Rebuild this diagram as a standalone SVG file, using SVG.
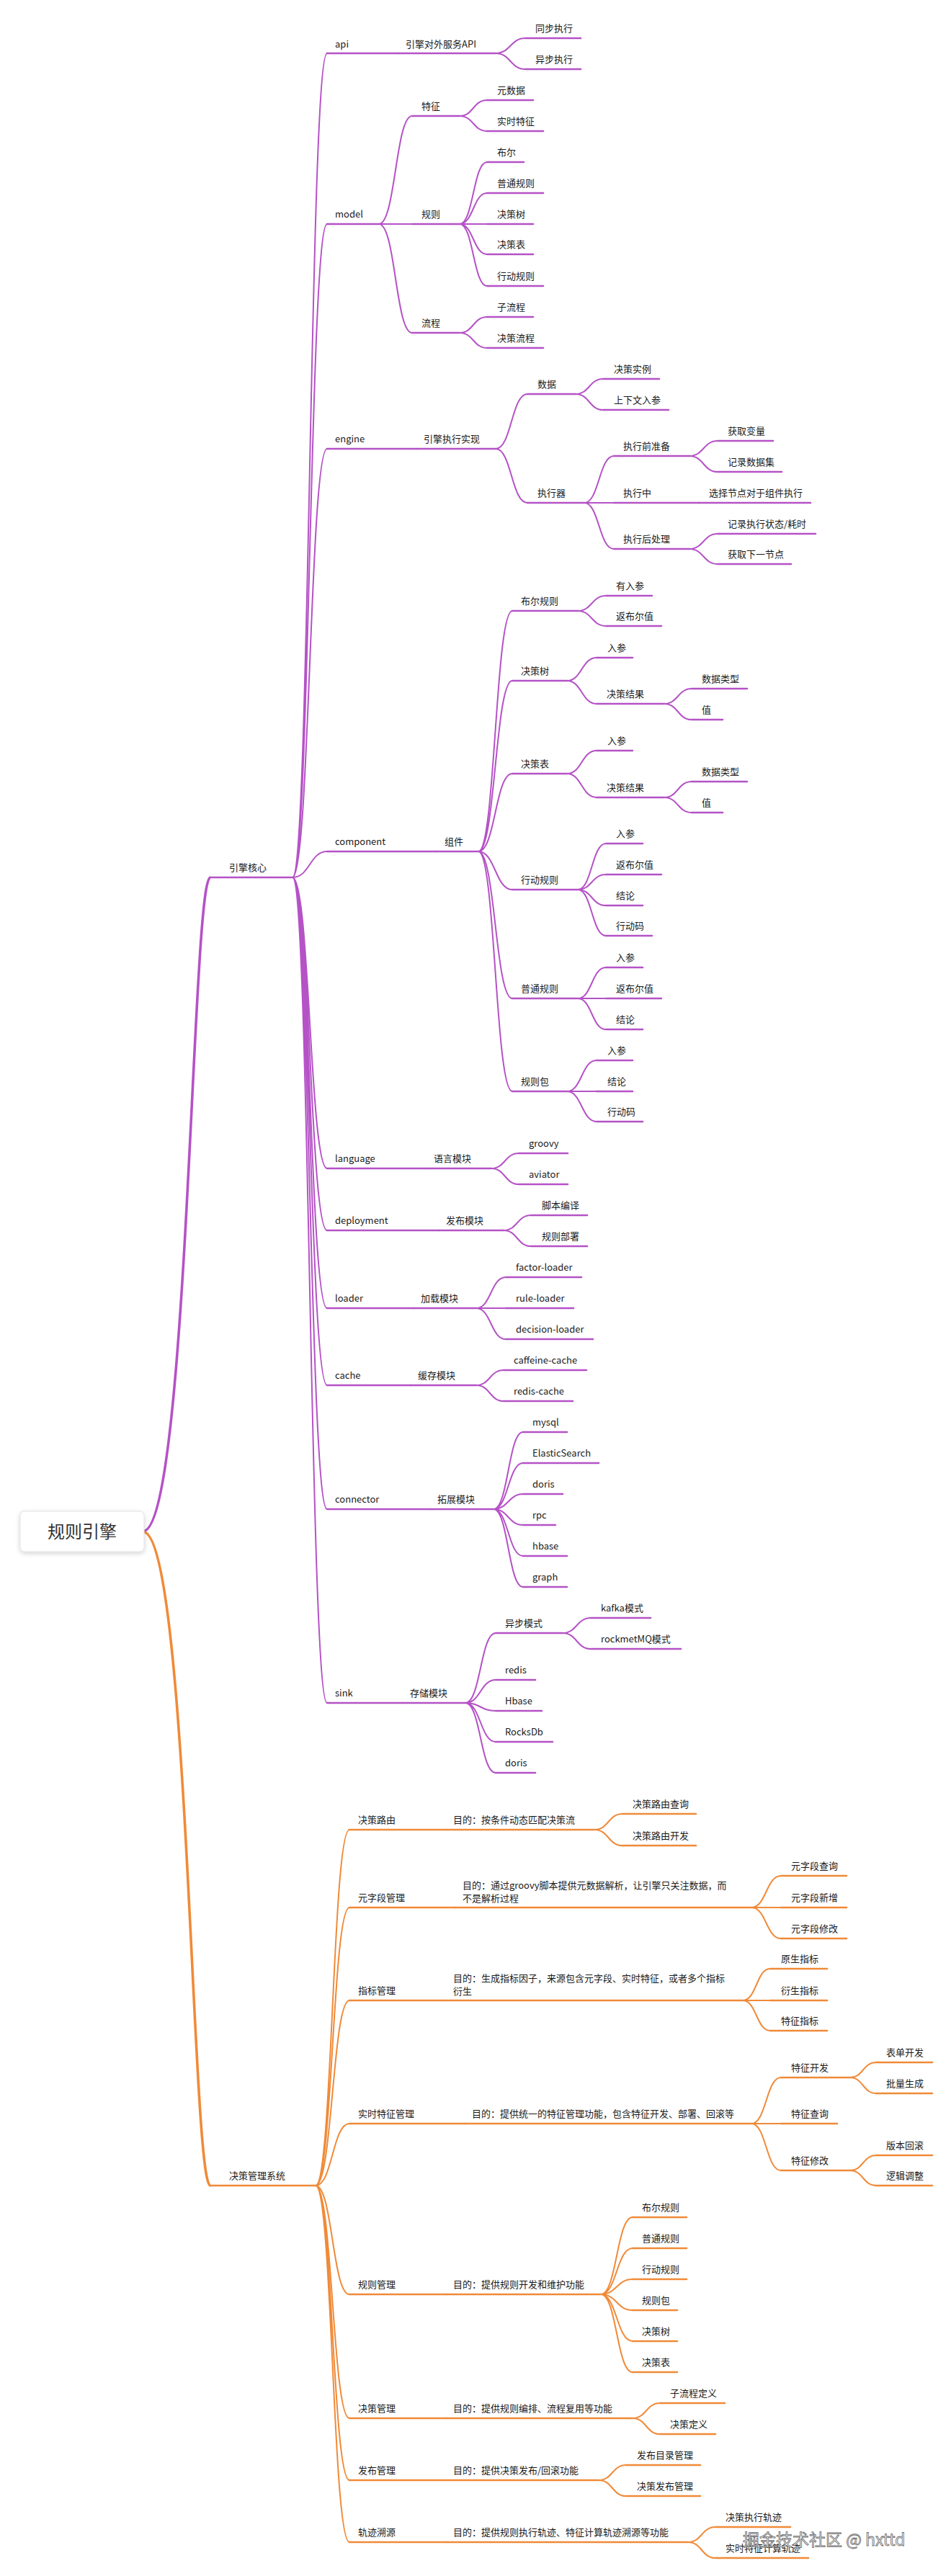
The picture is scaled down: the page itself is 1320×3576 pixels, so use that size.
<svg xmlns="http://www.w3.org/2000/svg" width="1320" height="3576" viewBox="0 0 1320 3576">
<style>
.t{font-family:"Noto Sans CJK SC","Microsoft YaHei",sans-serif;font-size:13px;fill:#1a1a1a}
.pl{stroke:#B552C6;stroke-width:2.6;fill:none;stroke-linecap:round}
.pc{stroke:#B552C6;stroke-width:2;fill:none}
.ol{stroke:#F08A38;stroke-width:2.6;fill:none;stroke-linecap:round}
.oc{stroke:#F08A38;stroke-width:2;fill:none}
.wm{font-family:"Noto Sans CJK SC",sans-serif;font-size:23px;fill:#f4f4f4;stroke:#6a6a6a;stroke-width:0.8}
</style>
<defs>
<filter id="sh" x="-20%" y="-20%" width="140%" height="160%"><feDropShadow dx="0" dy="2" stdDeviation="3" flood-color="#000" flood-opacity="0.18"/></filter>
</defs>
<rect width="1320" height="3576" fill="#ffffff"/>
<g id="connectors">
<path class="pc" style="stroke-width:3.6" d="M198 2126 C262 2126 266 1218 292 1218"/>
<path class="oc" style="stroke-width:3.6" d="M198 2126 C262 2126 266 3034 292 3034"/>
<path class="pc" d="M406 1218 C430 1218 430 74 454 74M406 1218 C430 1218 430 311 454 311M406 1218 C430 1218 430 623 454 623M406 1218 C430 1218 430 1182 454 1182M406 1218 C430 1218 430 1622 454 1622M406 1218 C430 1218 430 1708 454 1708M406 1218 C430 1218 430 1816 454 1816M406 1218 C430 1218 430 1923 454 1923M406 1218 C430 1218 430 2095 454 2095M406 1218 C430 1218 430 2364 454 2364"/>
<path class="pc" d="M688 74 C708.5 74 708.5 53 729 53M688 74 C708.5 74 708.5 96 729 96"/>
<path class="pc" d="M526 311 C549 311 549 161 572 161M526 311 H572M526 311 C549 311 549 462 572 462"/>
<path class="pc" d="M638 161 C657 161 657 139 676 139M638 161 C657 161 657 182 676 182"/>
<path class="pc" d="M638 311 C657 311 657 225 676 225M638 311 C657 311 657 268 676 268M638 311 H676M638 311 C657 311 657 353 676 353M638 311 C657 311 657 397 676 397"/>
<path class="pc" d="M638 462 C657 462 657 440 676 440M638 462 C657 462 657 483 676 483"/>
<path class="pc" d="M688 623 C710 623 710 547 732 547M688 623 C710 623 710 698 732 698"/>
<path class="pc" d="M799 547 C818 547 818 526 837 526M799 547 C818 547 818 569 837 569"/>
<path class="pc" d="M811 698 C831.5 698 831.5 633 852 633M811 698 H852M811 698 C831.5 698 831.5 762 852 762"/>
<path class="pc" d="M957 633 C976.5 633 976.5 612 996 612M957 633 C976.5 633 976.5 655 996 655"/>
<path class="pc" d="M957 762 C976.5 762 976.5 741 996 741M957 762 C976.5 762 976.5 783 996 783"/>
<path class="pc" d="M664 1182 C687.5 1182 687.5 848 711 848M664 1182 C687.5 1182 687.5 945 711 945M664 1182 C687.5 1182 687.5 1074 711 1074M664 1182 C687.5 1182 687.5 1235 711 1235M664 1182 C687.5 1182 687.5 1386 711 1386M664 1182 C687.5 1182 687.5 1515 711 1515"/>
<path class="pc" d="M802 848 C821.5 848 821.5 827 841 827M802 848 C821.5 848 821.5 869 841 869"/>
<path class="pc" d="M787 945 C807.5 945 807.5 913 828 913M787 945 C807.5 945 807.5 977 828 977"/>
<path class="pc" d="M922 977 C941 977 941 956 960 956M922 977 C941 977 941 999 960 999"/>
<path class="pc" d="M787 1074 C807.5 1074 807.5 1042 828 1042M787 1074 C807.5 1074 807.5 1107 828 1107"/>
<path class="pc" d="M922 1107 C941 1107 941 1085 960 1085M922 1107 C941 1107 941 1128 960 1128"/>
<path class="pc" d="M802 1235 C821.5 1235 821.5 1171 841 1171M802 1235 C821.5 1235 821.5 1214 841 1214M802 1235 C821.5 1235 821.5 1257 841 1257M802 1235 C821.5 1235 821.5 1299 841 1299"/>
<path class="pc" d="M802 1386 C821.5 1386 821.5 1343 841 1343M802 1386 H841M802 1386 C821.5 1386 821.5 1429 841 1429"/>
<path class="pc" d="M787 1515 C807.5 1515 807.5 1472 828 1472M787 1515 H828M787 1515 C807.5 1515 807.5 1557 828 1557"/>
<path class="pc" d="M682 1622 C701 1622 701 1601 720 1601M682 1622 C701 1622 701 1644 720 1644"/>
<path class="pc" d="M699 1708 C718 1708 718 1687 737 1687M699 1708 C718 1708 718 1730 737 1730"/>
<path class="pc" d="M661 1816 C681.5 1816 681.5 1773 702 1773M661 1816 H702M661 1816 C681.5 1816 681.5 1859 702 1859"/>
<path class="pc" d="M661 1923 C680 1923 680 1902 699 1902M661 1923 C680 1923 680 1945 699 1945"/>
<path class="pc" d="M685 2095 C705.5 2095 705.5 1988 726 1988M685 2095 C705.5 2095 705.5 2031 726 2031M685 2095 C705.5 2095 705.5 2074 726 2074M685 2095 C705.5 2095 705.5 2117 726 2117M685 2095 C705.5 2095 705.5 2160 726 2160M685 2095 C705.5 2095 705.5 2203 726 2203"/>
<path class="pc" d="M646 2364 C667 2364 667 2267 688 2267M646 2364 C667 2364 667 2332 688 2332M646 2364 C667 2364 667 2375 688 2375M646 2364 C667 2364 667 2418 688 2418M646 2364 C667 2364 667 2461 688 2461"/>
<path class="pc" d="M781 2267 C800.5 2267 800.5 2246 820 2246M781 2267 C800.5 2267 800.5 2289 820 2289"/>
<path class="oc" d="M438 3034 C461.5 3034 461.5 2540 485 2540M438 3034 C461.5 3034 461.5 2648 485 2648M438 3034 C461.5 3034 461.5 2777 485 2777M438 3034 C461.5 3034 461.5 2948 485 2948M438 3034 C461.5 3034 461.5 3185 485 3185M438 3034 C461.5 3034 461.5 3357 485 3357M438 3034 C461.5 3034 461.5 3443 485 3443M438 3034 C461.5 3034 461.5 3529 485 3529"/>
<path class="oc" d="M825 2540 C844.5 2540 844.5 2518 864 2518M825 2540 C844.5 2540 844.5 2562 864 2562"/>
<path class="oc" d="M1043 2648 C1063.5 2648 1063.5 2604 1084 2604M1043 2648 H1084M1043 2648 C1063.5 2648 1063.5 2691 1084 2691"/>
<path class="oc" d="M1031 2777 C1050 2777 1050 2733 1069 2733M1031 2777 H1069M1031 2777 C1050 2777 1050 2819 1069 2819"/>
<path class="oc" d="M1043 2948 C1063.5 2948 1063.5 2884 1084 2884M1043 2948 H1084M1043 2948 C1063.5 2948 1063.5 3013 1084 3013"/>
<path class="oc" d="M1180 2884 C1198 2884 1198 2863 1216 2863M1180 2884 C1198 2884 1198 2906 1216 2906"/>
<path class="oc" d="M1180 3013 C1198 3013 1198 2992 1216 2992M1180 3013 C1198 3013 1198 3034 1216 3034"/>
<path class="oc" d="M834 3185 C856 3185 856 3078 878 3078M834 3185 C856 3185 856 3121 878 3121M834 3185 C856 3185 856 3164 878 3164M834 3185 C856 3185 856 3207 878 3207M834 3185 C856 3185 856 3250 878 3250M834 3185 C856 3185 856 3293 878 3293"/>
<path class="oc" d="M878 3357 C897 3357 897 3336 916 3336M878 3357 C897 3357 897 3379 916 3379"/>
<path class="oc" d="M831 3443 C850 3443 850 3422 869 3422M831 3443 C850 3443 850 3465 869 3465"/>
<path class="oc" d="M955 3529 C974 3529 974 3508 993 3508M955 3529 C974 3529 974 3551 993 3551"/>
</g>
<g id="root"><rect x="28" y="2098" width="172" height="56" rx="6" fill="#fff" stroke="#e2e2e2" filter="url(#sh)"/><text class="t" x="114" y="2135" text-anchor="middle" style="font-size:24px;fill:#333">规则引擎</text></g>
<g id="n-core"><path class="pl" d="M292 1218 H406"/><text class="t" x="318" y="1209">引擎核心</text></g>
<g id="n-api"><path class="pl" d="M454 74 H553"/><text class="t" x="465" y="66">api</text></g>
<g id="n-api-desc"><path class="pl" d="M553 74 H688"/><text class="t" x="563" y="66">引擎对外服务API</text></g>
<g id="n-sync"><path class="pl" d="M729 53 H806"/><text class="t" x="743" y="44">同步执行</text></g>
<g id="n-async"><path class="pl" d="M729 96 H806"/><text class="t" x="743" y="87">异步执行</text></g>
<g id="n-model"><path class="pl" d="M454 311 H526"/><text class="t" x="465" y="302">model</text></g>
<g id="n-feat"><path class="pl" d="M572 161 H638"/><text class="t" x="585" y="152">特征</text></g>
<g id="n-meta"><path class="pl" d="M676 139 H740"/><text class="t" x="690" y="130">元数据</text></g>
<g id="n-rtfeat"><path class="pl" d="M676 182 H754"/><text class="t" x="690" y="173">实时特征</text></g>
<g id="n-rule"><path class="pl" d="M572 311 H638"/><text class="t" x="585" y="302">规则</text></g>
<g id="n-bool"><path class="pl" d="M676 225 H727"/><text class="t" x="690" y="216">布尔</text></g>
<g id="n-normal"><path class="pl" d="M676 268 H754"/><text class="t" x="690" y="259">普通规则</text></g>
<g id="n-dtree"><path class="pl" d="M676 311 H740"/><text class="t" x="690" y="302">决策树</text></g>
<g id="n-dtable"><path class="pl" d="M676 353 H740"/><text class="t" x="690" y="344">决策表</text></g>
<g id="n-action"><path class="pl" d="M676 397 H754"/><text class="t" x="690" y="388">行动规则</text></g>
<g id="n-flow"><path class="pl" d="M572 462 H638"/><text class="t" x="585" y="453">流程</text></g>
<g id="n-subflow"><path class="pl" d="M676 440 H740"/><text class="t" x="690" y="431">子流程</text></g>
<g id="n-dflow"><path class="pl" d="M676 483 H754"/><text class="t" x="690" y="474">决策流程</text></g>
<g id="n-engine"><path class="pl" d="M454 623 H578"/><text class="t" x="465" y="614">engine</text></g>
<g id="n-engine-desc"><path class="pl" d="M578 623 H688"/><text class="t" x="588" y="614">引擎执行实现</text></g>
<g id="n-data"><path class="pl" d="M732 547 H799"/><text class="t" x="746" y="538">数据</text></g>
<g id="n-dinst"><path class="pl" d="M837 526 H915"/><text class="t" x="852" y="517">决策实例</text></g>
<g id="n-ctx"><path class="pl" d="M837 569 H928"/><text class="t" x="852" y="560">上下文入参</text></g>
<g id="n-exec"><path class="pl" d="M732 698 H811"/><text class="t" x="746" y="689">执行器</text></g>
<g id="n-pre"><path class="pl" d="M852 633 H957"/><text class="t" x="865" y="624">执行前准备</text></g>
<g id="n-getvar"><path class="pl" d="M996 612 H1073"/><text class="t" x="1010" y="603">获取变量</text></g>
<g id="n-recds"><path class="pl" d="M996 655 H1085"/><text class="t" x="1010" y="646">记录数据集</text></g>
<g id="n-mid"><path class="pl" d="M852 698 H970"/><text class="t" x="865" y="689">执行中</text></g>
<g id="n-select"><path class="pl" d="M970 698 H1125"/><text class="t" x="984" y="689">选择节点对于组件执行</text></g>
<g id="n-post"><path class="pl" d="M852 762 H957"/><text class="t" x="865" y="753">执行后处理</text></g>
<g id="n-recstat"><path class="pl" d="M996 741 H1132"/><text class="t" x="1010" y="732">记录执行状态/耗时</text></g>
<g id="n-next"><path class="pl" d="M996 783 H1098"/><text class="t" x="1010" y="774">获取下一节点</text></g>
<g id="n-component"><path class="pl" d="M454 1182 H605"/><text class="t" x="465" y="1173">component</text></g>
<g id="n-comp-desc"><path class="pl" d="M605 1182 H664"/><text class="t" x="617" y="1173">组件</text></g>
<g id="n-c-bool"><path class="pl" d="M711 848 H802"/><text class="t" x="723" y="839">布尔规则</text></g>
<g id="n-c-bool-in"><path class="pl" d="M841 827 H905"/><text class="t" x="855" y="818">有入参</text></g>
<g id="n-c-bool-ret"><path class="pl" d="M841 869 H918"/><text class="t" x="855" y="860">返布尔值</text></g>
<g id="n-c-tree"><path class="pl" d="M711 945 H787"/><text class="t" x="723" y="936">决策树</text></g>
<g id="n-c-tree-in"><path class="pl" d="M828 913 H878"/><text class="t" x="843" y="904">入参</text></g>
<g id="n-c-tree-res"><path class="pl" d="M828 977 H922"/><text class="t" x="842" y="968">决策结果</text></g>
<g id="n-c-tree-type"><path class="pl" d="M960 956 H1037"/><text class="t" x="974" y="947">数据类型</text></g>
<g id="n-c-tree-val"><path class="pl" d="M960 999 H1003"/><text class="t" x="974" y="990">值</text></g>
<g id="n-c-table"><path class="pl" d="M711 1074 H787"/><text class="t" x="723" y="1065">决策表</text></g>
<g id="n-c-table-in"><path class="pl" d="M828 1042 H878"/><text class="t" x="843" y="1033">入参</text></g>
<g id="n-c-table-res"><path class="pl" d="M828 1107 H922"/><text class="t" x="842" y="1098">决策结果</text></g>
<g id="n-c-table-type"><path class="pl" d="M960 1085 H1037"/><text class="t" x="974" y="1076">数据类型</text></g>
<g id="n-c-table-val"><path class="pl" d="M960 1128 H1003"/><text class="t" x="974" y="1119">值</text></g>
<g id="n-c-action"><path class="pl" d="M711 1235 H802"/><text class="t" x="723" y="1226">行动规则</text></g>
<g id="n-c-action-in"><path class="pl" d="M841 1171 H892"/><text class="t" x="855" y="1162">入参</text></g>
<g id="n-c-action-ret"><path class="pl" d="M841 1214 H918"/><text class="t" x="855" y="1205">返布尔值</text></g>
<g id="n-c-action-con"><path class="pl" d="M841 1257 H892"/><text class="t" x="855" y="1248">结论</text></g>
<g id="n-c-action-code"><path class="pl" d="M841 1299 H905"/><text class="t" x="855" y="1290">行动码</text></g>
<g id="n-c-normal"><path class="pl" d="M711 1386 H802"/><text class="t" x="723" y="1377">普通规则</text></g>
<g id="n-c-normal-in"><path class="pl" d="M841 1343 H892"/><text class="t" x="855" y="1334">入参</text></g>
<g id="n-c-normal-ret"><path class="pl" d="M841 1386 H918"/><text class="t" x="855" y="1377">返布尔值</text></g>
<g id="n-c-normal-con"><path class="pl" d="M841 1429 H892"/><text class="t" x="855" y="1420">结论</text></g>
<g id="n-c-pkg"><path class="pl" d="M711 1515 H787"/><text class="t" x="723" y="1506">规则包</text></g>
<g id="n-c-pkg-in"><path class="pl" d="M828 1472 H878"/><text class="t" x="843" y="1463">入参</text></g>
<g id="n-c-pkg-con"><path class="pl" d="M828 1515 H878"/><text class="t" x="843" y="1506">结论</text></g>
<g id="n-c-pkg-code"><path class="pl" d="M828 1557 H892"/><text class="t" x="843" y="1548">行动码</text></g>
<g id="n-language"><path class="pl" d="M454 1622 H592"/><text class="t" x="465" y="1613">language</text></g>
<g id="n-lang-desc"><path class="pl" d="M592 1622 H682"/><text class="t" x="602" y="1613">语言模块</text></g>
<g id="n-groovy"><path class="pl" d="M720 1601 H788"/><text class="t" x="734" y="1592">groovy</text></g>
<g id="n-aviator"><path class="pl" d="M720 1644 H788"/><text class="t" x="734" y="1635">aviator</text></g>
<g id="n-deployment"><path class="pl" d="M454 1708 H609"/><text class="t" x="465" y="1699">deployment</text></g>
<g id="n-deploy-desc"><path class="pl" d="M609 1708 H699"/><text class="t" x="619" y="1699">发布模块</text></g>
<g id="n-compile"><path class="pl" d="M737 1687 H815"/><text class="t" x="752" y="1678">脚本编译</text></g>
<g id="n-ruledeploy"><path class="pl" d="M737 1730 H815"/><text class="t" x="752" y="1721">规则部署</text></g>
<g id="n-loader"><path class="pl" d="M454 1816 H574"/><text class="t" x="465" y="1807">loader</text></g>
<g id="n-loader-desc"><path class="pl" d="M574 1816 H661"/><text class="t" x="584" y="1807">加载模块</text></g>
<g id="n-factor-loader"><path class="pl" d="M702 1773 H807"/><text class="t" x="716" y="1764">factor-loader</text></g>
<g id="n-rule-loader"><path class="pl" d="M702 1816 H796"/><text class="t" x="716" y="1807">rule-loader</text></g>
<g id="n-decision-loader"><path class="pl" d="M702 1859 H823"/><text class="t" x="716" y="1850">decision-loader</text></g>
<g id="n-cache"><path class="pl" d="M454 1923 H570"/><text class="t" x="465" y="1914">cache</text></g>
<g id="n-cache-desc"><path class="pl" d="M570 1923 H661"/><text class="t" x="580" y="1914">缓存模块</text></g>
<g id="n-caffeine"><path class="pl" d="M699 1902 H814"/><text class="t" x="713" y="1893">caffeine-cache</text></g>
<g id="n-redis-cache"><path class="pl" d="M699 1945 H795"/><text class="t" x="713" y="1936">redis-cache</text></g>
<g id="n-connector"><path class="pl" d="M454 2095 H597"/><text class="t" x="465" y="2086">connector</text></g>
<g id="n-conn-desc"><path class="pl" d="M597 2095 H685"/><text class="t" x="607" y="2086">拓展模块</text></g>
<g id="n-mysql"><path class="pl" d="M726 1988 H787"/><text class="t" x="739" y="1979">mysql</text></g>
<g id="n-es"><path class="pl" d="M726 2031 H831"/><text class="t" x="739" y="2022">ElasticSearch</text></g>
<g id="n-doris1"><path class="pl" d="M726 2074 H781"/><text class="t" x="739" y="2065">doris</text></g>
<g id="n-rpc"><path class="pl" d="M726 2117 H771"/><text class="t" x="739" y="2108">rpc</text></g>
<g id="n-hbase1"><path class="pl" d="M726 2160 H787"/><text class="t" x="739" y="2151">hbase</text></g>
<g id="n-graph"><path class="pl" d="M726 2203 H787"/><text class="t" x="739" y="2194">graph</text></g>
<g id="n-sink"><path class="pl" d="M454 2364 H559"/><text class="t" x="465" y="2355">sink</text></g>
<g id="n-sink-desc"><path class="pl" d="M559 2364 H646"/><text class="t" x="569" y="2355">存储模块</text></g>
<g id="n-asyncmode"><path class="pl" d="M688 2267 H781"/><text class="t" x="701" y="2258">异步模式</text></g>
<g id="n-kafka"><path class="pl" d="M820 2246 H903"/><text class="t" x="834" y="2237">kafka模式</text></g>
<g id="n-rocket"><path class="pl" d="M820 2289 H945"/><text class="t" x="834" y="2280">rockmetMQ模式</text></g>
<g id="n-redis"><path class="pl" d="M688 2332 H743"/><text class="t" x="701" y="2323">redis</text></g>
<g id="n-hbase2"><path class="pl" d="M688 2375 H752"/><text class="t" x="701" y="2366">Hbase</text></g>
<g id="n-rocksdb"><path class="pl" d="M688 2418 H767"/><text class="t" x="701" y="2409">RocksDb</text></g>
<g id="n-doris2"><path class="pl" d="M688 2461 H743"/><text class="t" x="701" y="2452">doris</text></g>
<g id="n-dms"><path class="ol" d="M292 3034 H438"/><text class="t" x="318" y="3025">决策管理系统</text></g>
<g id="n-route"><path class="ol" d="M485 2540 H619"/><text class="t" x="497" y="2531">决策路由</text></g>
<g id="n-route-desc"><path class="ol" d="M619 2540 H825"/><text class="t" x="629" y="2531">目的：按条件动态匹配决策流</text></g>
<g id="n-route-q"><path class="ol" d="M864 2518 H966"/><text class="t" x="878" y="2509">决策路由查询</text></g>
<g id="n-route-d"><path class="ol" d="M864 2562 H966"/><text class="t" x="878" y="2553">决策路由开发</text></g>
<g id="n-field"><path class="ol" d="M485 2648 H632"/><text class="t" x="497" y="2639">元字段管理</text></g>
<g id="n-field-desc"><path class="ol" d="M632 2648 H1043"/><text class="t" x="642" y="2622">目的：通过groovy脚本提供元数据解析，让引擎只关注数据，而</text><text class="t" x="642" y="2640">不是解析过程</text></g>
<g id="n-field-q"><path class="ol" d="M1084 2604 H1175"/><text class="t" x="1098" y="2595">元字段查询</text></g>
<g id="n-field-a"><path class="ol" d="M1084 2648 H1175"/><text class="t" x="1098" y="2639">元字段新增</text></g>
<g id="n-field-m"><path class="ol" d="M1084 2691 H1175"/><text class="t" x="1098" y="2682">元字段修改</text></g>
<g id="n-metric"><path class="ol" d="M485 2777 H619"/><text class="t" x="497" y="2768">指标管理</text></g>
<g id="n-metric-desc"><path class="ol" d="M619 2777 H1031"/><text class="t" x="629" y="2751">目的：生成指标因子，来源包含元字段、实时特征，或者多个指标</text><text class="t" x="629" y="2769">衍生</text></g>
<g id="n-metric-raw"><path class="ol" d="M1069 2733 H1148"/><text class="t" x="1084" y="2724">原生指标</text></g>
<g id="n-metric-der"><path class="ol" d="M1069 2777 H1148"/><text class="t" x="1084" y="2768">衍生指标</text></g>
<g id="n-metric-feat"><path class="ol" d="M1069 2819 H1148"/><text class="t" x="1084" y="2810">特征指标</text></g>
<g id="n-rtf"><path class="ol" d="M485 2948 H645"/><text class="t" x="497" y="2939">实时特征管理</text></g>
<g id="n-rtf-desc"><path class="ol" d="M645 2948 H1043"/><text class="t" x="655" y="2939">目的：提供统一的特征管理功能，包含特征开发、部署、回滚等</text></g>
<g id="n-fdev"><path class="ol" d="M1084 2884 H1180"/><text class="t" x="1098" y="2875">特征开发</text></g>
<g id="n-form"><path class="ol" d="M1216 2863 H1294"/><text class="t" x="1230" y="2854">表单开发</text></g>
<g id="n-batch"><path class="ol" d="M1216 2906 H1294"/><text class="t" x="1230" y="2897">批量生成</text></g>
<g id="n-fquery"><path class="ol" d="M1084 2948 H1162"/><text class="t" x="1098" y="2939">特征查询</text></g>
<g id="n-fmod"><path class="ol" d="M1084 3013 H1180"/><text class="t" x="1098" y="3004">特征修改</text></g>
<g id="n-rollback"><path class="ol" d="M1216 2992 H1294"/><text class="t" x="1230" y="2983">版本回滚</text></g>
<g id="n-logic"><path class="ol" d="M1216 3034 H1294"/><text class="t" x="1230" y="3025">逻辑调整</text></g>
<g id="n-rm"><path class="ol" d="M485 3185 H619"/><text class="t" x="497" y="3176">规则管理</text></g>
<g id="n-rm-desc"><path class="ol" d="M619 3185 H834"/><text class="t" x="629" y="3176">目的：提供规则开发和维护功能</text></g>
<g id="n-rm-bool"><path class="ol" d="M878 3078 H953"/><text class="t" x="891" y="3069">布尔规则</text></g>
<g id="n-rm-normal"><path class="ol" d="M878 3121 H953"/><text class="t" x="891" y="3112">普通规则</text></g>
<g id="n-rm-action"><path class="ol" d="M878 3164 H953"/><text class="t" x="891" y="3155">行动规则</text></g>
<g id="n-rm-pkg"><path class="ol" d="M878 3207 H940"/><text class="t" x="891" y="3198">规则包</text></g>
<g id="n-rm-tree"><path class="ol" d="M878 3250 H940"/><text class="t" x="891" y="3241">决策树</text></g>
<g id="n-rm-table"><path class="ol" d="M878 3293 H940"/><text class="t" x="891" y="3284">决策表</text></g>
<g id="n-dm"><path class="ol" d="M485 3357 H619"/><text class="t" x="497" y="3348">决策管理</text></g>
<g id="n-dm-desc"><path class="ol" d="M619 3357 H878"/><text class="t" x="629" y="3348">目的：提供规则编排、流程复用等功能</text></g>
<g id="n-subdef"><path class="ol" d="M916 3336 H1006"/><text class="t" x="930" y="3327">子流程定义</text></g>
<g id="n-ddef"><path class="ol" d="M916 3379 H993"/><text class="t" x="930" y="3370">决策定义</text></g>
<g id="n-pub"><path class="ol" d="M485 3443 H619"/><text class="t" x="497" y="3434">发布管理</text></g>
<g id="n-pub-desc"><path class="ol" d="M619 3443 H831"/><text class="t" x="629" y="3434">目的：提供决策发布/回滚功能</text></g>
<g id="n-pubdir"><path class="ol" d="M869 3422 H972"/><text class="t" x="884" y="3413">发布目录管理</text></g>
<g id="n-pubdec"><path class="ol" d="M869 3465 H972"/><text class="t" x="884" y="3456">决策发布管理</text></g>
<g id="n-trace"><path class="ol" d="M485 3529 H619"/><text class="t" x="497" y="3520">轨迹溯源</text></g>
<g id="n-trace-desc"><path class="ol" d="M619 3529 H955"/><text class="t" x="629" y="3520">目的：提供规则执行轨迹、特征计算轨迹溯源等功能</text></g>
<g id="n-trace-dec"><path class="ol" d="M993 3508 H1097"/><text class="t" x="1007" y="3499">决策执行轨迹</text></g>
<g id="n-trace-rt"><path class="ol" d="M993 3551 H1122"/><text class="t" x="1007" y="3542">实时特征计算轨迹</text></g>
<text class="wm" x="1031" y="3534">掘金技术社区 @ hxttd</text>
</svg>
